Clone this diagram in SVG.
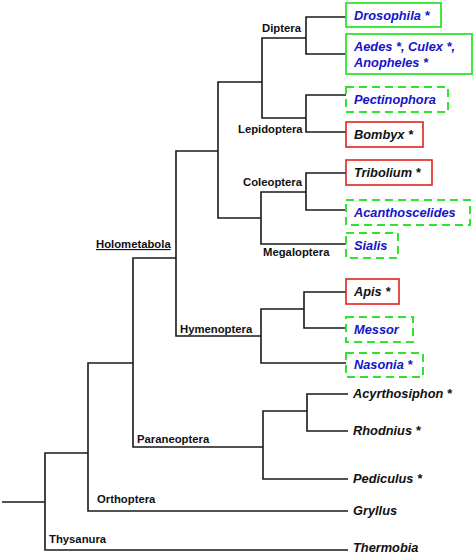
<svg xmlns="http://www.w3.org/2000/svg" width="474" height="555" viewBox="0 0 474 555">
<style>
.ln{fill:none;stroke:#1a1a1a;stroke-width:1.6}
.lbl{font-family:"Liberation Sans",Arial,sans-serif;font-weight:bold;font-size:11.3px;fill:#111}
.sp{font-family:"Liberation Sans",Arial,sans-serif;font-weight:bold;font-style:italic;font-size:12.8px}
.blue{fill:#1414c8}
.blk{fill:#111}
.gs{fill:#fff;stroke:#2ee62e;stroke-width:1.8}
.gd{fill:#fff;stroke:#2ee62e;stroke-width:2;stroke-dasharray:8 5}
.rd{fill:#fff;stroke:#e02222;stroke-width:1.6}
</style>
<rect width="474" height="555" fill="#fff"/>
<g id="connectors" class="ln">
<path d="M2,502 H45 M88,453 H45 V550 H348"/>
<path d="M133,363 H88 V511 H348"/>
<path d="M176,258 H133 V447 H263"/>
<path d="M307,411 H263 V479 H348"/>
<path d="M348,394 H307 V431 H348"/>
<path d="M218,151 H176 V336 H261"/>
<path d="M304,309 H261 V363 H346"/>
<path d="M346,292 H304 V328 H346"/>
<path d="M262,82 H218 V218 H261"/>
<path d="M306,38 H262 V118 H306"/>
<path d="M346,17 H306 V54 H346"/>
<path d="M346,95 H306 V132 H346"/>
<path d="M306,192 H261 V244 H346"/>
<path d="M346,173 H306 V210 H346"/>
</g>
<g id="labels">
<text class="lbl" x="262" y="32">Diptera</text>
<text class="lbl" x="238" y="133">Lepidoptera</text>
<text class="lbl" x="243" y="186">Coleoptera</text>
<text class="lbl" x="263" y="256">Megaloptera</text>
<text class="lbl" x="180" y="333">Hymenoptera</text>
<text class="lbl" x="96" y="248" text-decoration="underline">Holometabola</text>
<text class="lbl" x="137" y="443">Paraneoptera</text>
<text class="lbl" x="97" y="503">Orthoptera</text>
<text class="lbl" x="49" y="543">Thysanura</text>
</g>
<g id="drosophila"><rect class="gs" x="346" y="3" width="95" height="24"/><text class="sp blue" x="354" y="20">Drosophila *</text></g>
<g id="aedes"><rect class="gs" x="346" y="34" width="126" height="40"/><text class="sp blue" x="354" y="51">Aedes *, Culex *,</text><text class="sp blue" x="354" y="67">Anopheles *</text></g>
<g id="pectinophora"><rect class="gd" x="346" y="87" width="102" height="25"/><text class="sp blue" x="354" y="104">Pectinophora</text></g>
<g id="bombyx"><rect class="rd" x="346" y="122" width="77" height="25"/><text class="sp blk" x="354" y="139">Bombyx *</text></g>
<g id="tribolium"><rect class="rd" x="346" y="160" width="86" height="25"/><text class="sp blk" x="354" y="177">Tribolium *</text></g>
<g id="acanthoscelides"><rect class="gd" x="346" y="200" width="124" height="25"/><text class="sp blue" x="354" y="217">Acanthoscelides</text></g>
<g id="sialis"><rect class="gd" x="346" y="233" width="52" height="25"/><text class="sp blue" x="354" y="250">Sialis</text></g>
<g id="apis"><rect class="rd" x="346" y="279" width="53" height="25"/><text class="sp blk" x="354" y="296">Apis *</text></g>
<g id="messor"><rect class="gd" x="346" y="317" width="67" height="25"/><text class="sp blue" x="354" y="334">Messor</text></g>
<g id="nasonia"><rect class="gd" x="346" y="353" width="77" height="24"/><text class="sp blue" x="354" y="369">Nasonia *</text></g>
<g id="acyrthosiphon"><text class="sp blk" x="353" y="398">Acyrthosiphon *</text></g>
<g id="rhodnius"><text class="sp blk" x="353" y="435">Rhodnius *</text></g>
<g id="pediculus"><text class="sp blk" x="353" y="483">Pediculus *</text></g>
<g id="gryllus"><text class="sp blk" x="353" y="515">Gryllus</text></g>
<g id="thermobia"><text class="sp blk" x="353" y="552">Thermobia</text></g>
</svg>
